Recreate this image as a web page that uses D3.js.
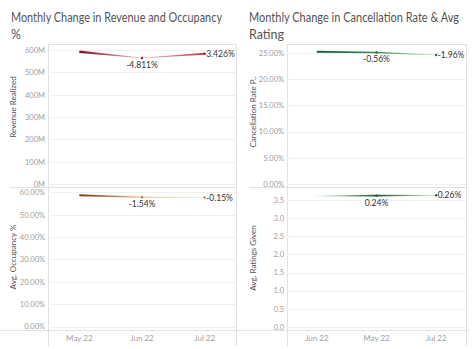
<!doctype html>
<html>
<head>
<meta charset="UTF-8">
<title>Monthly Change</title>
<script src="https://d3js.org/d3.v7.min.js"></script>
<style>
  body { margin: 0; background: #fff; font-family: Lato, "Open Sans", sans-serif; }
  text { font-family: Lato, "Open Sans", sans-serif; }
</style>
</head>
<body>
<svg id="chart" width="474" height="349"></svg>
<script>
// months as they appear on each dashboard side
var monthsLeft = ["May 22", "Jun 22", "Jul 22"];
var monthsRight = ["Jun 22", "May 22", "Jul 22"];

// measures, in the same order as the months above
var revenue = [592.0e6, 563.5e6, 582.8e6];
var revenueChange = [null, "-4.811%", "3.426%"];
var occupancy = [0.587, 0.578, 0.577];
var occupancyChange = [null, "-1.54%", "-0.15%"];
var cancellation = [0.2520, 0.2506, 0.2457];
var cancellationChange = [null, "-0.56%", "-1.96%"];
var rating = [3.620, 3.629, 3.638];
var ratingChange = [null, "0.24%", "0.26%"];

var revenueTicks = [0, 100e6, 200e6, 300e6, 400e6, 500e6, 600e6];
var occupancyTicks = [0, 0.1, 0.2, 0.3, 0.4, 0.5, 0.6];
var cancellationTicks = [0, 0.05, 0.10, 0.15, 0.20, 0.25];
var ratingTicks = [0, 0.5, 1, 1.5, 2, 2.5, 3, 3.5];

var svg = d3.select("#chart");
var defs = svg.append("defs");
var gridColor = "#f0f0f0", borderColor = "#e2e2e2";

function title(x, y, txt, len) {
  var t = svg.append("text").attr("x", x).attr("y", y).attr("font-size", 12.5).attr("fill", "#555").text(txt);
  if (len) t.attr("textLength", len).attr("lengthAdjust", "spacingAndGlyphs");
}
title(11, 22, "Monthly Change in Revenue and Occupancy", 211);
title(11, 39, "%");
title(249, 22, "Monthly Change in Cancellation Rate & Avg", 210);
title(249, 39, "Rating");

var gradId = 0;
// tapered line: each segment is a quad whose width and colour blend between its ends
function taperedLine(g, pts) {
  for (var i = 0; i < pts.length - 1; i++) {
    var a = pts[i], b = pts[i + 1];
    var dx = b.x - a.x, dy = b.y - a.y, len = Math.sqrt(dx * dx + dy * dy);
    var nx = -dy / len, ny = dx / len;
    var id = "grad" + (gradId++);
    var lg = defs.append("linearGradient").attr("id", id).attr("gradientUnits", "userSpaceOnUse")
      .attr("x1", a.x).attr("y1", a.y).attr("x2", b.x).attr("y2", b.y);
    lg.append("stop").attr("offset", 0).attr("stop-color", a.c);
    lg.append("stop").attr("offset", 1).attr("stop-color", b.c);
    var p = [
      [a.x + nx * a.w / 2, a.y + ny * a.w / 2],
      [b.x + nx * b.w / 2, b.y + ny * b.w / 2],
      [b.x - nx * b.w / 2, b.y - ny * b.w / 2],
      [a.x - nx * a.w / 2, a.y - ny * a.w / 2]
    ];
    g.append("path").attr("d", "M" + p.join("L") + "Z").attr("fill", "url(#" + id + ")");
  }
}

function pane(opt) {
  var g = svg.append("g");
  var y = d3.scaleLinear().domain(opt.domain).range([opt.y1, opt.y0]);
  // gridlines
  g.selectAll(".grid").data(opt.ticks).join("line")
    .attr("x1", opt.x0).attr("x2", opt.x1)
    .attr("y1", function(d) { return Math.round(y(d)) + 0.5; })
    .attr("y2", function(d) { return Math.round(y(d)) + 0.5; })
    .attr("stroke", gridColor);
  // tick labels
  var ax = g.append("g").attr("transform", "translate(" + (opt.x0 - 3) + ",0)")
    .call(d3.axisLeft(y).tickValues(opt.ticks).tickFormat(opt.fmt).tickSize(0).tickPadding(0));
  ax.select(".domain").remove();
  ax.selectAll("text").attr("fill", "#a0a0a0").attr("font-size", 7.5).attr("font-family", "Lato, sans-serif");
  // axis title
  g.append("text").attr("transform", "translate(" + opt.titleX + "," + opt.titleY + ") rotate(-90)")
    .attr("text-anchor", "middle").attr("font-size", 8).attr("fill", "#555").text(opt.title);

  var pts = opt.values.map(function(v, i) {
    return { x: opt.x(opt.months[i]) + opt.x.bandwidth() / 2, y: y(v), w: opt.widths[i], c: opt.colors[i] };
  });
  taperedLine(g, pts);
  pts.forEach(function(p, i) {
    if (!opt.labels[i]) return;
    g.append("circle").attr("cx", p.x).attr("cy", p.y).attr("r", 1.2).attr("fill", opt.dot);
    if (i === pts.length - 1) {
      g.append("text").attr("x", p.x + 1.5).attr("y", p.y + 3).attr("font-size", 8.5).attr("fill", "#333").text(opt.labels[i]);
    } else {
      g.append("text").attr("x", p.x).attr("y", p.y + 10).attr("text-anchor", "middle")
        .attr("font-size", 8.5).attr("fill", "#333").text(opt.labels[i]);
    }
  });
}

function side(left, right, months) {
  var x = d3.scaleBand().domain(months).range([left, right]);
  // frame lines
  svg.append("line").attr("x1", left).attr("x2", right).attr("y1", 44.5).attr("y2", 44.5).attr("stroke", borderColor);
  svg.append("line").attr("x1", left - 38).attr("x2", right).attr("y1", 187.5).attr("y2", 187.5).attr("stroke", borderColor);
  svg.append("line").attr("x1", left - 48).attr("x2", right + 3).attr("y1", 330.5).attr("y2", 330.5).attr("stroke", borderColor);
  svg.append("line").attr("x1", left + 0.5).attr("x2", left + 0.5).attr("y1", 44).attr("y2", 346).attr("stroke", borderColor);
  svg.append("line").attr("x1", right + 0.5).attr("x2", right + 0.5).attr("y1", 44).attr("y2", 346).attr("stroke", borderColor);
  var xa = svg.append("g").attr("transform", "translate(0,331)")
    .call(d3.axisBottom(x).tickSize(0).tickPadding(4));
  xa.select(".domain").remove();
  xa.selectAll("text").attr("fill", "#a0a0a0").attr("font-size", 8).attr("font-family", "Lato, sans-serif");
  return x;
}

var xL = side(48, 236, monthsLeft);
var xR = side(287, 466, monthsRight);

pane({ x: xL, months: monthsLeft, x0: 48, x1: 236, y0: 45, y1: 184, domain: [0, 622e6],
  ticks: revenueTicks, fmt: function(d) { return d / 1e6 + "M"; }, title: "Revenue Realized", titleX: 16, titleY: 107,
  values: revenue, labels: revenueChange, widths: [2.4, 0.6, 2.0],
  colors: ["#7d1325", "#f2b7c0", "#c8344c"], dot: "#8a1d30" });

pane({ x: xL, months: monthsLeft, x0: 48, x1: 236, y0: 188, y1: 326.5, domain: [0, 0.6195],
  ticks: occupancyTicks, fmt: d3.format(".2%"), title: "Avg. Occupancy %", titleX: 16, titleY: 257,
  values: occupancy, labels: occupancyChange, widths: [2.2, 1.0, 0.6],
  colors: ["#8a3210", "#eeb783", "#f8dcc0"], dot: "#c07a4a" });

pane({ x: xR, months: monthsRight, x0: 287, x1: 466, y0: 45, y1: 184, domain: [0, 0.2648],
  ticks: cancellationTicks, fmt: d3.format(".2%"), title: "Cancellation Rate P..", titleX: 256, titleY: 112,
  values: cancellation, labels: cancellationChange, widths: [2.0, 1.4, 0.6],
  colors: ["#1d5e32", "#3f8f57", "#b6dfb6"], dot: "#2d6d3f" });

pane({ x: xR, months: monthsRight, x0: 287, x1: 466, y0: 188, y1: 326.7, domain: [0, 3.84],
  ticks: ratingTicks, fmt: d3.format(".1f"), title: "Avg. Ratings Given", titleX: 256, titleY: 258,
  values: rating, labels: ratingChange, widths: [0.6, 1.6, 0.6],
  colors: ["#cfe8cf", "#1b5e2a", "#b9dcb9"], dot: "#1b5e2a" });
</script>
</body>
</html>
